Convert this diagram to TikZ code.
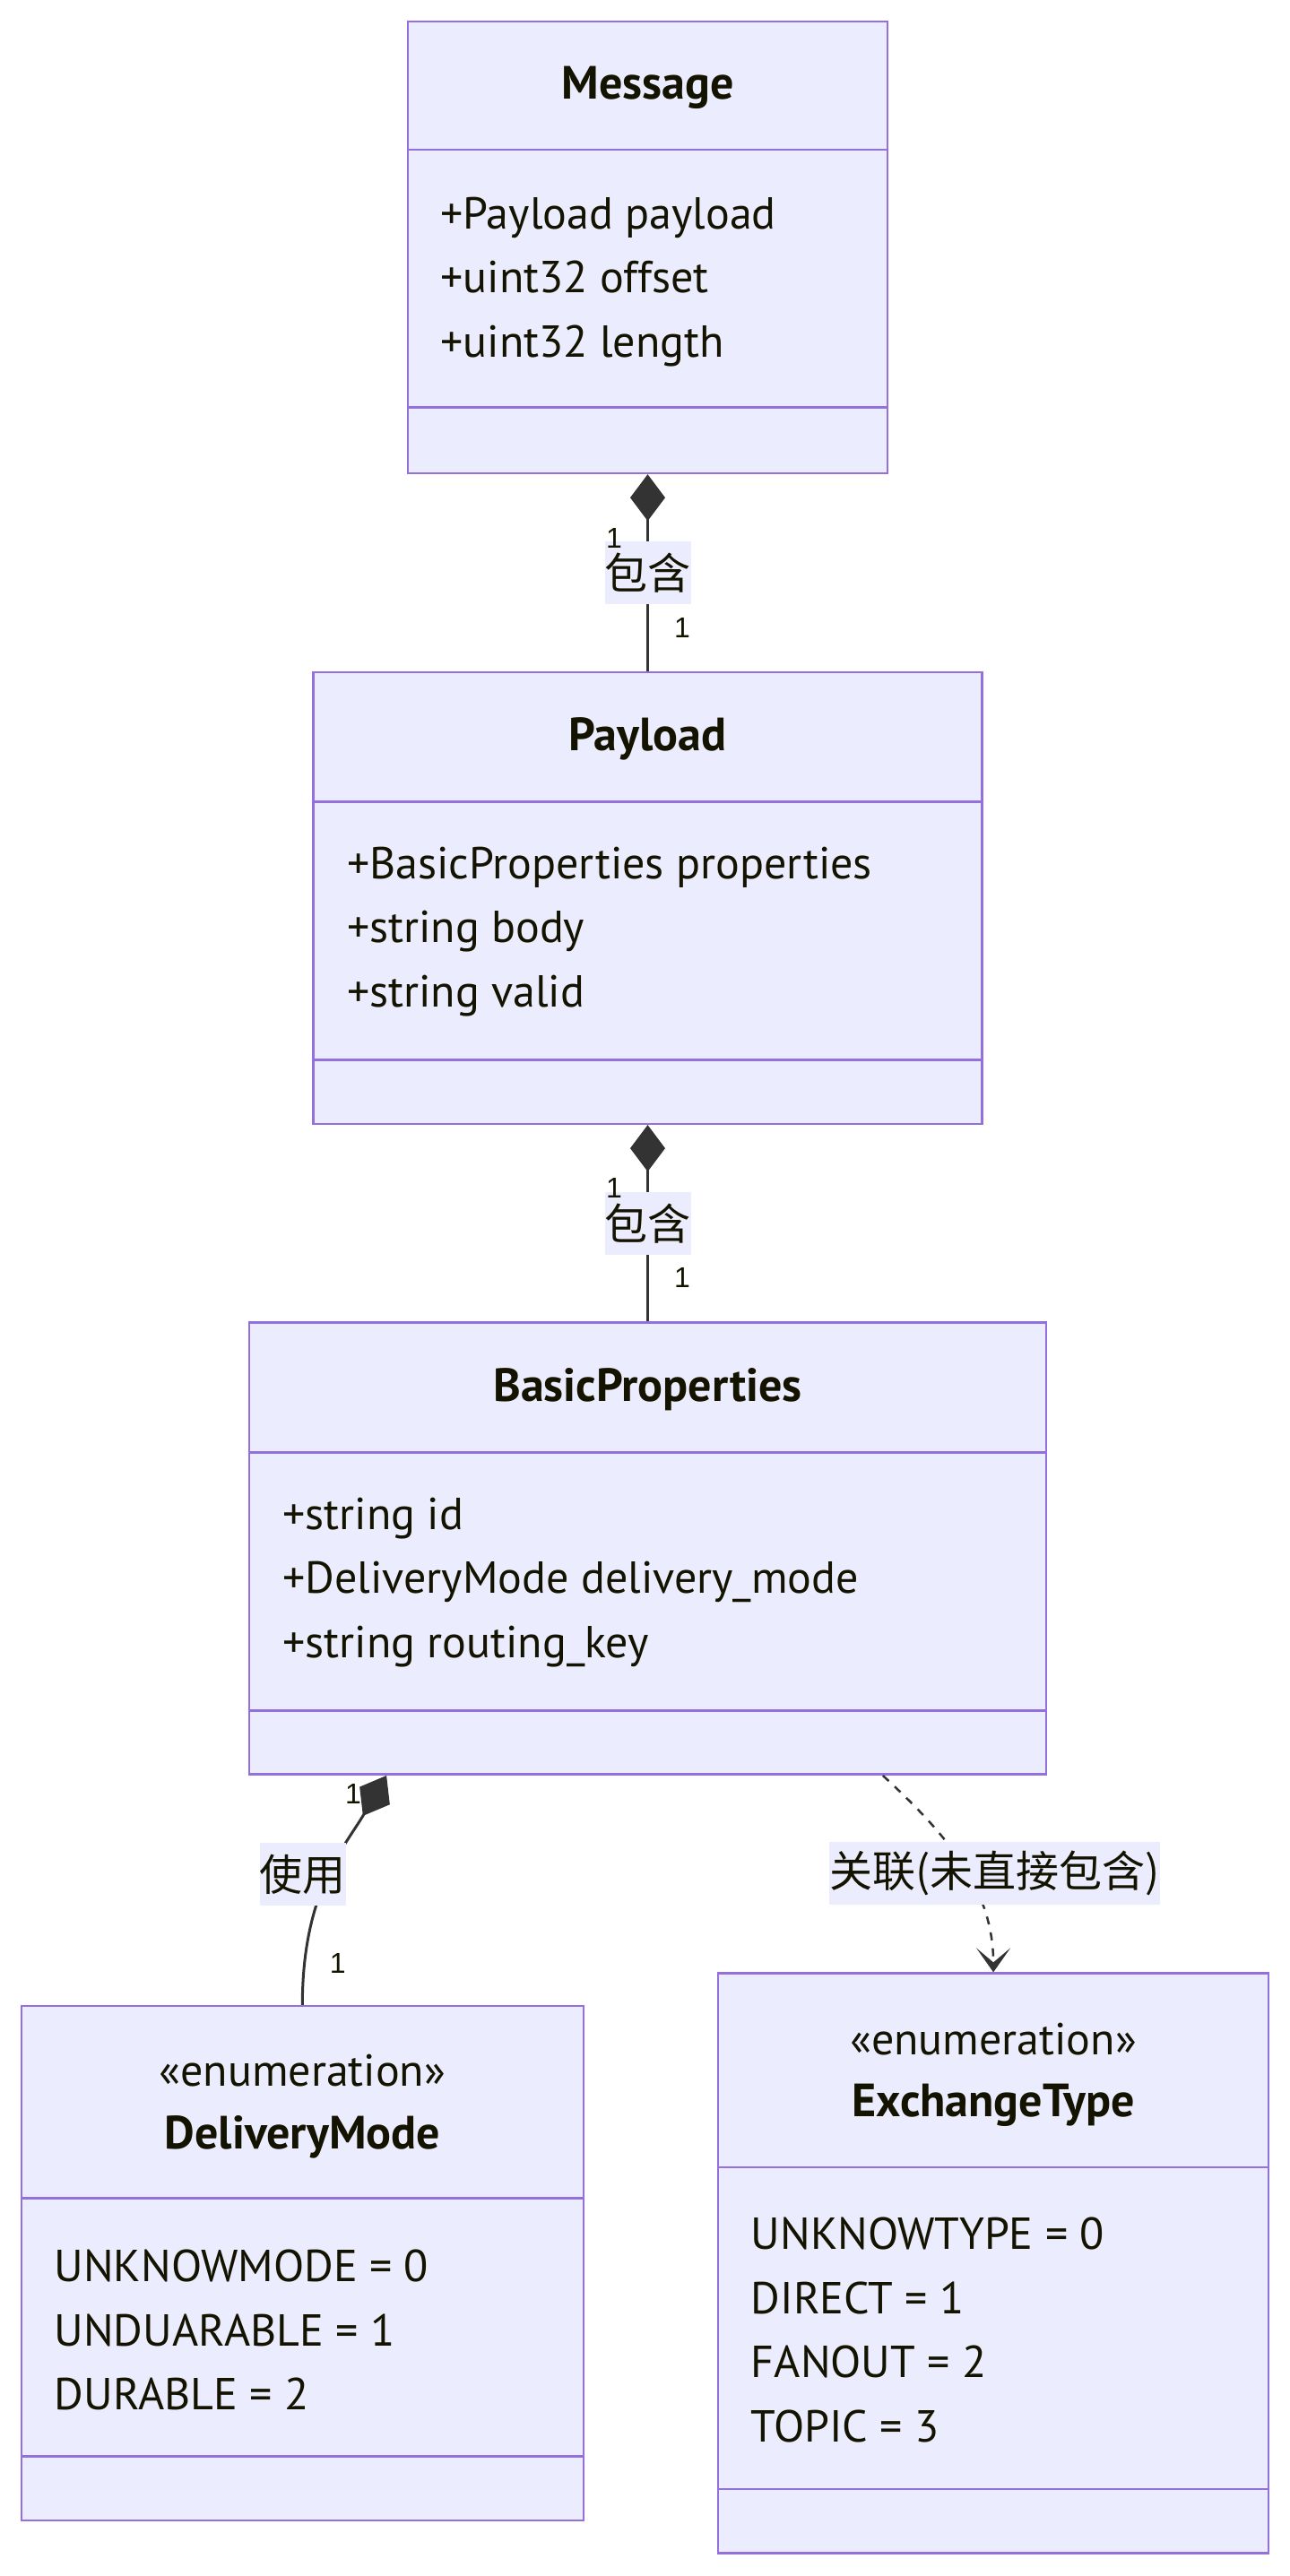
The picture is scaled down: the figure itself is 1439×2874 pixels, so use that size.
\documentclass[tikz,border=0pt]{standalone}
\usepackage{fontspec}
\setmainfont{PT Sans}
\newfontfamily\cjkfont{Noto Sans CJK SC}
\newfontfamily\multfont{Liberation Sans}
\usetikzlibrary{arrows.meta}
\definecolor{class-fill}{HTML}{ECECFF}
\definecolor{class-border}{HTML}{9370DB}
\definecolor{link-gray}{HTML}{333333}
\definecolor{ink}{HTML}{131300}

\tikzset{
  classbox/.style={draw=class-border, fill=class-fill, line width=2.5pt, inner sep=0pt},
  classline/.style={draw=class-border, line width=2.5pt},
  classname/.style={font=\fontsize{52}{60}\selectfont\bfseries, text=ink},
  stereo/.style={font=\fontsize{50}{60}\selectfont, text=ink},
  members/.style={font=\fontsize{50}{71.5}\selectfont, text=ink, align=left, anchor=west, inner sep=0pt},
  link/.style={draw=link-gray, line width=3pt},
  comp/.style={{Diamond[length=52pt,width=39pt]}-},
  edgelabel/.style={fill=class-fill, text=ink, font=\fontsize{48}{58}\cjkfont, inner xsep=0pt, minimum height=70pt},
  mult/.style={text=ink, font=\fontsize{32}{38}\multfont, inner sep=0pt},
}

\begin{document}
\begin{tikzpicture}[x=1pt, y=1pt]
  \useasboundingbox (0,0) rectangle (1439,-2874);
  \node[classbox, minimum width=535.3pt, minimum height=504.1pt] (message) at (722.5,-275.9) {};
  \draw[classline] (message.west |- 0,-166.8) -- (message.east |- 0,-166.8);
  \draw[classline] (message.west |- 0,-454.6) -- (message.east |- 0,-454.6);
  \node[classname] (message-name) at (722.5,-98) {Message};
  \node[members] (message-attrs) at (491.3,-314.5) {+Payload payload\\+uint32 offset\\+uint32 length};

  \node[classbox, minimum width=746.1pt, minimum height=504.1pt] (payload) at (722.5,-1001.8) {};
  \draw[classline] (payload.west |- 0,-894.6) -- (payload.east |- 0,-894.6);
  \draw[classline] (payload.west |- 0,-1182.3) -- (payload.east |- 0,-1182.3);
  \node[classname] (payload-name) at (722.5,-824) {Payload};
  \node[members] (payload-attrs) at (386.8,-1039.5) {+BasicProperties properties\\+string body\\+string valid};

  \node[classbox, minimum width=889.1pt, minimum height=504.1pt] (basic) at (722.5,-1727.65) {};
  \draw[classline] (basic.west |- 0,-1620.5) -- (basic.east |- 0,-1620.5);
  \draw[classline] (basic.west |- 0,-1908.3) -- (basic.east |- 0,-1908.3);
  \node[classname] (basic-name) at (722.5,-1550) {BasicProperties};
  \node[members] (basic-attrs) at (315.3,-1765.4) {+string id\\+DeliveryMode delivery\_mode\\+string routing\_key};

  \node[classbox, minimum width=627pt, minimum height=573.8pt] (delivery) at (337.3,-2525.1) {};
  \draw[classline] (delivery.west |- 0,-2452.7) -- (delivery.east |- 0,-2452.7);
  \draw[classline] (delivery.west |- 0,-2740.5) -- (delivery.east |- 0,-2740.5);
  \node[stereo] (delivery-stereo) at (337.3,-2310) {«enumeration»};
  \node[classname] (delivery-name) at (337.3,-2384) {DeliveryMode};
  \node[members] (delivery-values) at (60.5,-2599.5) {UNKNOWMODE = 0\\UNDUARABLE = 1\\DURABLE = 2};

  \node[classbox, minimum width=614.2pt, minimum height=647pt] (exchange) at (1108.1,-2525.1) {};
  \draw[classline] (exchange.west |- 0,-2417.9) -- (exchange.east |- 0,-2417.9);
  \draw[classline] (exchange.west |- 0,-2777.1) -- (exchange.east |- 0,-2777.1);
  \node[stereo] (exchange-stereo) at (1108.1,-2275) {«enumeration»};
  \node[classname] (exchange-name) at (1108.1,-2349) {ExchangeType};
  \node[members] (exchange-values) at (837.7,-2599.5) {UNKNOWTYPE = 0\\DIRECT = 1\\FANOUT = 2\\TOPIC = 3};

  \draw[link, comp] (message.south) -- node[edgelabel] (contain1) {包含} (payload.north);
  \node[mult] (contain1-src) at (685,-600) {1};
  \node[mult] (contain1-dst) at (761,-700) {1};

  \draw[link, comp] (payload.south) -- node[edgelabel] (contain2) {包含} (basic.north);
  \node[mult] (contain2-src) at (685,-1325.8) {1};
  \node[mult] (contain2-dst) at (761,-1425.6) {1};

  \draw[link, comp] (basic.221.5) .. controls (385,-2060) and (337.3,-2110) .. (delivery.north);
  \node[edgelabel] (uses) at (337.8,-2091) {使用};
  \node[mult] (uses-src) at (394,-2001.7) {1};
  \node[mult] (uses-dst) at (376.7,-2190) {1};

  \draw[link, line width=2.5pt, dash pattern=on 9pt off 9pt, -{Stealth[length=27pt, width=38pt, inset=16pt]}] (basic.316.8) .. controls (1060,-2050) and (1108.1,-2110) .. (exchange.north);
  \node[edgelabel] (assoc) at (1109.5,-2090) {关联(未直接包含)};
\end{tikzpicture}
\end{document}
